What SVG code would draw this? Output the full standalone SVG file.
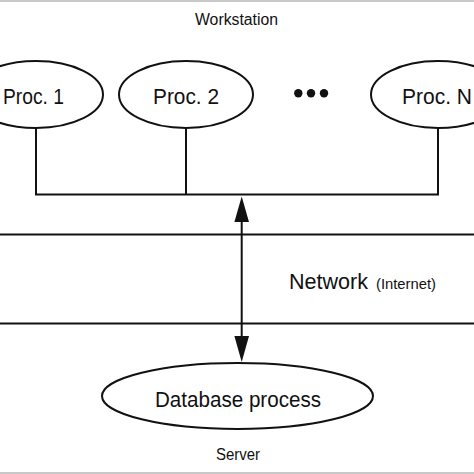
<svg xmlns="http://www.w3.org/2000/svg" width="474" height="474" viewBox="0 0 474 474">
<defs>
<style>
.shape{fill:none;stroke:#111;stroke-width:2}
.line{fill:none;stroke:#111;stroke-width:2}
.t{font-family:"Liberation Sans",Arial,sans-serif;fill:#111}
.big{font-size:22px}
.small{font-size:16px}
</style>
</defs>
<rect x="0" y="0" width="474" height="474" fill="#fff"/>
<rect x="0" y="0" width="474" height="2" fill="#c8c8c8"/>
<rect x="0" y="472" width="474" height="2" fill="#c8c8c8"/>
<text class="t small" x="195" y="25" textLength="83" lengthAdjust="spacingAndGlyphs">Workstation</text>
<g id="connectors">
<polyline class="line" points="36,128 36,194.5 438,194.5 438,128"/>
<line class="line" x1="186" y1="128" x2="186" y2="194.5"/>
<line class="line" x1="0" y1="234.5" x2="474" y2="234.5"/>
<line class="line" x1="0" y1="323.5" x2="474" y2="323.5"/>
<line class="line" x1="241.7" y1="210" x2="241.7" y2="350"/>
<path d="M241.7,196.5 L249,222 L234.4,222 Z" fill="#111"/>
<path d="M241.7,362 L249,336 L234.4,336 Z" fill="#111"/>
</g>
<g id="proc1">
<ellipse class="shape" cx="36" cy="94.5" rx="67" ry="33.5"/>
<text class="t big" x="3" y="104" textLength="61" lengthAdjust="spacingAndGlyphs">Proc. 1</text>
</g>
<g id="proc2">
<ellipse class="shape" cx="186" cy="94.5" rx="67" ry="33.5"/>
<text class="t big" x="153" y="104" textLength="66" lengthAdjust="spacingAndGlyphs">Proc. 2</text>
</g>
<g id="dots">
<circle cx="298.3" cy="93.3" r="4.2" fill="#111"/>
<circle cx="311" cy="93.3" r="4.2" fill="#111"/>
<circle cx="324" cy="93.3" r="4.2" fill="#111"/>
</g>
<g id="procN">
<ellipse class="shape" cx="438" cy="94.5" rx="67" ry="33.5"/>
<text class="t big" x="402" y="104" textLength="70" lengthAdjust="spacingAndGlyphs">Proc. N</text>
</g>
<g id="network">
<text class="t big" x="289" y="289" textLength="79" lengthAdjust="spacingAndGlyphs">Network</text>
<text class="t" style="font-size:15px" x="376" y="289" textLength="60" lengthAdjust="spacingAndGlyphs">(Internet)</text>
</g>
<g id="db">
<ellipse class="shape" cx="237.5" cy="396" rx="135.5" ry="33"/>
<text class="t big" x="155" y="407" textLength="166" lengthAdjust="spacingAndGlyphs">Database process</text>
</g>
<text class="t small" x="216" y="460" textLength="44" lengthAdjust="spacingAndGlyphs">Server</text>
</svg>
